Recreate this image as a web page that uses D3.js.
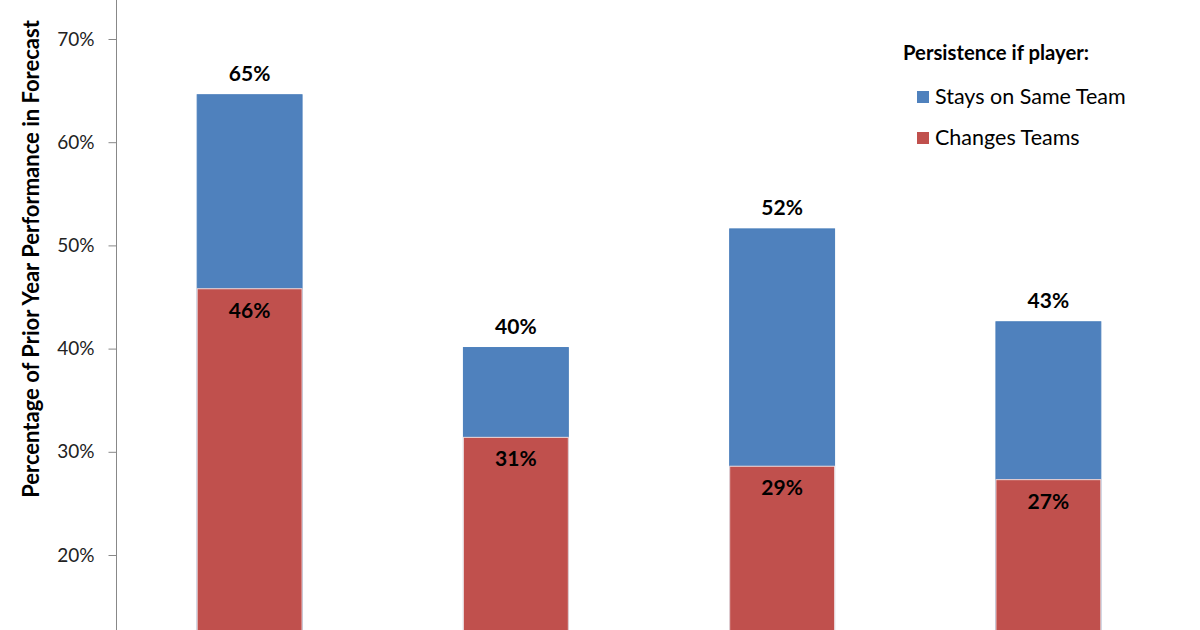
<!DOCTYPE html>
<html>
<head>
<meta charset="utf-8">
<script src="https://cdn.jsdelivr.net/npm/d3@7"></script>
<style>
  body { margin: 0; background: #fff; }
  svg { display: block; font-family: Lato, "Noto Sans", sans-serif; }
  .axis path, .axis line { stroke: #888; }
  .axis text { font-size: 19px; fill: #222; }
</style>
</head>
<body>
<div id="chart"></div>
<script>
// categories are below the visible crop, so only used as keys
const categories = ["Group 1", "Group 2", "Group 3", "Group 4"];
const staysSameTeam = [0.646, 0.401, 0.516, 0.426];
const changesTeams = [0.458, 0.314, 0.286, 0.273];
const yTicks = [0.2, 0.3, 0.4, 0.5, 0.6, 0.7];
const seriesNames = ["Stays on Same Team", "Changes Teams"];
const seriesColors = ["#4f81bd", "#c0504d"];

const width = 1200, height = 630;

let svg = d3.select("#chart").append("svg")
    .attr("width", width)
    .attr("height", height);

// y scale: 70% sits at 39px, 20% at 555px, baseline falls below the crop
let y = d3.scaleLinear()
    .domain([0.2, 0.7])
    .range([555, 39]);

let x = d3.scaleBand()
    .domain(categories)
    .range([116.5, 1181.5])
    .paddingInner(0.606)
    .paddingOuter(0.303);

// bars: blue drawn behind, red overlaps it from the baseline
let barData = categories.map((c, i) => ({ cat: c, stays: staysSameTeam[i], changes: changesTeams[i] }));

svg.selectAll(".bar-stays")
    .data(barData)
    .enter().append("rect")
        .attr("class", "bar-stays")
        .attr("x", d => x(d.cat))
        .attr("y", d => y(d.stays))
        .attr("width", x.bandwidth())
        .attr("height", d => y(0) - y(d.stays))
        .attr("fill", seriesColors[0])
        .attr("stroke", "#4a7ebb")
        .attr("stroke-width", 1);

svg.selectAll(".bar-changes")
    .data(barData)
    .enter().append("rect")
        .attr("class", "bar-changes")
        .attr("x", d => x(d.cat))
        .attr("y", d => y(d.changes))
        .attr("width", x.bandwidth())
        .attr("height", d => y(0) - y(d.changes))
        .attr("fill", seriesColors[1])
        .attr("stroke", "#f2dcdb")
        .attr("stroke-width", 1);

// value labels
let fmt = d3.format(".0%");
svg.selectAll(".label-stays")
    .data(barData)
    .enter().append("text")
        .attr("class", "label-stays")
        .attr("x", d => x(d.cat) + x.bandwidth() / 2)
        .attr("y", d => y(d.stays) - 14)
        .attr("text-anchor", "middle")
        .style("font-size", "21px")
        .style("font-weight", "bold")
        .text(d => fmt(d.stays));

svg.selectAll(".label-changes")
    .data(barData)
    .enter().append("text")
        .attr("class", "label-changes")
        .attr("x", d => x(d.cat) + x.bandwidth() / 2)
        .attr("y", d => y(d.changes) + 29)
        .attr("text-anchor", "middle")
        .style("font-size", "21px")
        .style("font-weight", "bold")
        .text(d => fmt(d.changes));

// y axis
let axis = svg.append("g")
    .attr("class", "axis")
    .attr("transform", "translate(116.5,0)")
    .call(d3.axisLeft(y)
        .tickValues(yTicks)
        .tickSize(8)
        .tickPadding(14)
        .tickFormat(d3.format(".0%")));
axis.attr("font-family", null).attr("font-size", null);
axis.select(".domain").remove();
axis.append("line")
    .attr("y1", 0)
    .attr("y2", height)
    .attr("stroke", "#888");

svg.append("text")
    .attr("transform", "translate(39," + 259 + ") rotate(-90)")
    .attr("text-anchor", "middle")
    .style("font-size", "22px")
    .style("font-weight", "bold")
    .text("Percentage of Prior Year Performance in Forecast");

// legend
let legend = svg.append("g").attr("transform", "translate(903,0)");
legend.append("text")
    .attr("x", 0)
    .attr("y", 60)
    .style("font-size", "20.3px")
    .style("font-weight", "bold")
    .text("Persistence if player:");

let item = legend.selectAll(".legend-item")
    .data(seriesNames)
    .enter().append("g")
        .attr("class", "legend-item")
        .attr("transform", (d, i) => "translate(14," + (91 + i * 41) + ")");
item.append("rect")
    .attr("width", 12)
    .attr("height", 12)
    .attr("fill", (d, i) => seriesColors[i]);
item.append("text")
    .attr("x", 18)
    .attr("y", 13)
    .style("font-size", "21.5px")
    .text(d => d);
</script>
</body>
</html>
